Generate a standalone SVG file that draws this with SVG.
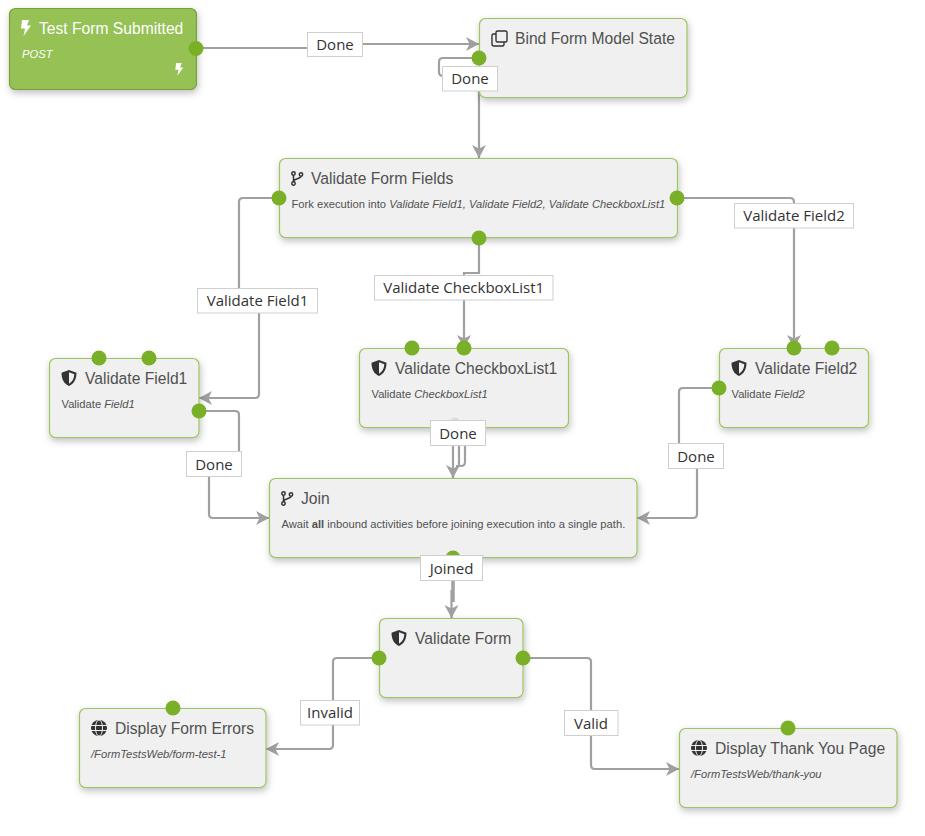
<svg xmlns="http://www.w3.org/2000/svg" width="925" height="836" viewBox="0 0 925 836">
<style>
text{font-family:"Liberation Sans",Arial,sans-serif}
.n{fill:#f0f0f0;stroke:#9bc65f;stroke-width:1.200;filter:url(#sh)}
.t{font-size:15.650px;fill:#505050}
.s{font-size:11.200px;fill:#505050}
.i{font-style:italic}
.p{fill:#7aaf28}
.c{fill:none;stroke:#a0a0a0;stroke-width:2.200;marker-end:url(#ah)}
.lb{fill:#fff;stroke:#cfcfcf;stroke-width:1}
.lt{font-family:"Open Sans","Liberation Sans",sans-serif;font-size:15px;fill:#333;text-anchor:middle}
.ic{fill:#333}
</style>
<defs>
<filter id="sh" x="-15%" y="-20%" width="130%" height="150%"><feDropShadow dx="1" dy="3" stdDeviation="3.500" flood-color="#000" flood-opacity=".25"/></filter>
<marker id="ah" markerUnits="userSpaceOnUse" markerWidth="16" markerHeight="16" refX="13" refY="7" orient="auto"><path d="M0 0L13 7L0 14L3.500 7Z" fill="#a0a0a0"/></marker>
<path id="bolt" d="M2 0H9L7 5.500H11L3.500 16L5 8.500H1Z"/>
<path id="shield" d="M8 0L15.500 2.800C15.500 8.500 13.300 14 8 16C2.700 14 .5 8.500 .5 2.800ZM8 2.300V13.700C11.200 12 13.200 8.500 13.300 4.300Z" fill-rule="evenodd"/>
<g id="fork" fill="none" stroke="#333" stroke-width="1.500"><circle cx="2.500" cy="2.500" r="1.700"/><circle cx="2.500" cy="12.500" r="1.700"/><circle cx="10" cy="3.500" r="1.700"/><path d="M2.500 4.200V10.800M10 5.200C10 8 2.500 7.500 2.500 10.500"/></g>
<g id="globe"><circle cx="8" cy="8" r="8" fill="#333"/><g fill="none" stroke="#f0f0f0" stroke-width="1"><ellipse cx="8" cy="8" rx="3.500" ry="8"/><path d="M0 5.500H16M0 10.500H16"/></g></g>
</defs>

<g id="connectors">
<path class="c" d="M196 48H335V44H479"/>
<path class="c" d="M479 58H443Q439 58 439 62V72Q439 76 443 76H479V158"/>
<path class="c" d="M279 198H243Q239 198 239 202V296H259V394Q259 398 255 398H199"/>
<path class="c" d="M479 238V273H464V348"/>
<path class="c" d="M677 198H790Q794 198 794 202V348"/>
<path class="c" d="M199 411H235Q239 411 239 415V462H209V514Q209 518 213 518H269"/>
<path class="c" d="M453 428V478"/>
<path class="c" d="M465 428V462Q465 466 461 466H456" style="marker-end:none"/>
<path class="c" d="M459 428V466" style="marker-end:none"/>
<path class="c" d="M718 388H683Q679 388 679 392V455H697V514Q697 518 693 518H637"/>
<path class="c" d="M453 558V602" style="stroke-width:3.500;marker-end:none"/>
<path class="c" d="M451.500 590V618"/>
<path class="c" d="M379 658H337Q333 658 333 662V745Q333 749 329 749H266"/>
<path class="c" d="M523 658H587Q591 658 591 662V765Q591 769 595 769H679"/>
</g>

<g id="trigger"><rect x="9.500" y="8.500" width="187" height="81" rx="6" fill="#95c155" stroke="#74a03c" stroke-width="1.200" filter="url(#sh)"/>
<use href="#bolt" x="20" y="20" fill="#fff"/><use href="#bolt" transform="translate(174.500 63) scale(.8)" fill="#fff"/>
<text x="39" y="34" class="t" style="fill:#fff">Test Form Submitted</text><text x="22" y="57.500" class="s i" style="fill:#fff">POST</text><circle class="p" cx="196" cy="48.500" r="7.500"/></g>

<g id="bind"><rect class="n" x="479.500" y="18.500" width="207.500" height="79" rx="6"/>
<g fill="none" stroke="#333" stroke-width="1.400"><rect x="496" y="31" width="11" height="11" rx="1.500"/><path d="M496 34H493.500Q492 34 492 35.500V44Q492 46 494 46H502.500Q504 46 504 44.500V42"/></g>
<text x="515" y="44" class="t">Bind Form Model State</text><circle class="p" cx="479" cy="58" r="7.500"/></g>

<g id="fork-node"><rect class="n" x="279.500" y="158.500" width="398" height="79" rx="6"/>
<use href="#fork" x="291" y="171"/><text x="311" y="184" class="t">Validate Form Fields</text>
<text x="291.500" y="208" class="s">Fork execution into <tspan class="i">Validate Field1, Validate Field2, Validate CheckboxList1</tspan></text>
<circle class="p" cx="279" cy="198" r="7.500"/><circle class="p" cx="677" cy="198" r="7.500"/><circle class="p" cx="479" cy="238" r="7.500"/></g>

<g id="field1"><rect class="n" x="49.500" y="358.500" width="149.500" height="79" rx="6"/>
<use href="#shield" x="61" y="370" class="ic"/><text x="85" y="384" class="t">Validate Field1</text>
<text x="61.500" y="408" class="s">Validate <tspan class="i">Field1</tspan></text>
<circle class="p" cx="99" cy="358" r="7.500"/><circle class="p" cx="149" cy="358" r="7.500"/><circle class="p" cx="199" cy="411" r="7.500"/></g>

<g id="checkbox"><rect class="n" x="359.500" y="348.500" width="209" height="79" rx="6"/>
<use href="#shield" x="371" y="360" class="ic"/><text x="395" y="374" class="t">Validate CheckboxList1</text>
<text x="371.500" y="398" class="s">Validate <tspan class="i">CheckboxList1</tspan></text>
<circle class="p" cx="412" cy="348" r="7.500"/><circle class="p" cx="464" cy="348" r="7.500"/>
<path d="M451 421Q451 417.500 455 417.500Q459 417.500 459 421" fill="#dcdcdc"/></g>

<g id="field2"><rect class="n" x="719.500" y="348.500" width="149" height="79" rx="6"/>
<use href="#shield" x="731" y="360" class="ic"/><text x="755" y="374" class="t">Validate Field2</text>
<text x="731.500" y="398" class="s">Validate <tspan class="i">Field2</tspan></text>
<circle class="p" cx="794" cy="348" r="7.500"/><circle class="p" cx="832" cy="348" r="7.500"/><circle class="p" cx="719" cy="388" r="7.500"/></g>

<g id="join"><rect class="n" x="269.500" y="478.500" width="367.500" height="79" rx="6"/>
<use href="#fork" x="281" y="491"/><text x="301" y="504" class="t">Join</text>
<text x="281.500" y="528" class="s">Await <tspan font-weight="700">all</tspan> inbound activities before joining execution into a single path.</text>
<circle class="p" cx="453" cy="558" r="7.500"/></g>

<g id="validate-form"><rect class="n" x="379.500" y="618.500" width="143.500" height="79" rx="6"/>
<use href="#shield" x="391" y="630" class="ic"/><text x="415" y="644" class="t">Validate Form</text>
<circle class="p" cx="379" cy="658" r="7.500"/><circle class="p" cx="523" cy="658" r="7.500"/></g>

<g id="errors"><rect class="n" x="79.500" y="708.500" width="186.500" height="79" rx="6"/>
<use href="#globe" x="91" y="720"/><text x="115" y="734" class="t">Display Form Errors</text>
<text x="91" y="758" class="s i">/FormTestsWeb/form-test-1</text>
<circle class="p" cx="173" cy="708" r="7.500"/></g>

<g id="thanks"><rect class="n" x="679.500" y="728.500" width="217.500" height="79" rx="6"/>
<use href="#globe" x="691" y="740"/><text x="715" y="754" class="t">Display Thank You Page</text>
<text x="691" y="778" class="s i">/FormTestsWeb/thank-you</text>
<circle class="p" cx="788" cy="728" r="7.500"/></g>

<g id="labels">
<rect class="lb" x="307.500" y="32.500" width="55" height="24"/><text class="lt" x="335" y="50">Done</text>
<rect class="lb" x="442.500" y="66.500" width="55" height="24.500"/><text class="lt" x="470" y="84">Done</text>
<rect class="lb" x="197.500" y="288.500" width="120" height="24.500"/><text class="lt" x="257.500" y="306">Validate Field1</text>
<rect class="lb" x="374.500" y="275.500" width="178.500" height="24.500"/><text class="lt" x="463.700" y="293">Validate CheckboxList1</text>
<rect class="lb" x="734.500" y="203.500" width="119" height="24.500"/><text class="lt" x="794" y="221">Validate Field2</text>
<rect class="lb" x="430.500" y="420.500" width="55" height="25"/><text class="lt" x="458" y="438.500">Done</text>
<rect class="lb" x="186.500" y="451.500" width="55" height="25"/><text class="lt" x="214" y="469.500">Done</text>
<rect class="lb" x="668.500" y="443.500" width="55" height="25"/><text class="lt" x="696" y="461.500">Done</text>
<rect class="lb" x="420.500" y="555.500" width="62" height="25"/><text class="lt" x="451.500" y="573.500">Joined</text>
<rect class="lb" x="300.500" y="700.500" width="59" height="24.500"/><text class="lt" x="330" y="718">Invalid</text>
<rect class="lb" x="564.500" y="710.500" width="53.500" height="25"/><text class="lt" x="591" y="728.500">Valid</text>
</g>
</svg>
